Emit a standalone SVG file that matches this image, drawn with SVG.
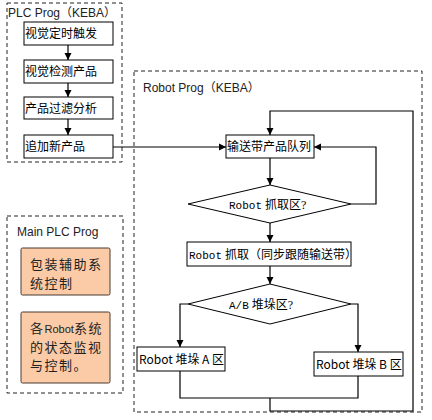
<svg xmlns="http://www.w3.org/2000/svg" width="432" height="420" viewBox="0 0 432 420">
<defs>
<style>
.frame{fill:none;stroke:#222;stroke-width:1;stroke-dasharray:4 3}
.box{fill:#fff;stroke:#000;stroke-width:1}
.obox{fill:#fbcaa6;stroke:#4a3a30;stroke-width:1}
.line{fill:none;stroke:#000;stroke-width:1.2}
.t{font-family:"Noto Sans CJK SC","Liberation Sans",sans-serif;font-size:12px;fill:#000}
.s{font-family:"Liberation Serif","Noto Sans CJK SC",serif;font-size:12px;fill:#000}
.title{font-family:"Liberation Sans","Noto Sans CJK SC",sans-serif;font-size:12px;fill:#222}
.o{font-family:"Noto Sans CJK SC",sans-serif;font-size:13px;fill:#222;letter-spacing:1.5px}
</style>
<marker id="ar" markerWidth="8" markerHeight="8" refX="7" refY="4" orient="auto" markerUnits="userSpaceOnUse">
<path d="M0,0.5 L7,4 L0,7.5 Z" fill="#000"/>
</marker>
</defs>
<rect width="432" height="420" fill="#fff"/>

<g id="plc-prog">
<rect class="frame" x="7" y="3" width="115" height="159"/>
<text class="title" x="8" y="17">PLC Prog（KEBA）</text>
</g>
<g id="n1"><rect class="box" x="24" y="22" width="89" height="23"/><text class="t" x="25" y="38">视觉定时触发</text></g>
<g id="n2"><rect class="box" x="24" y="60" width="89" height="23"/><text class="t" x="25" y="76">视觉检测产品</text></g>
<g id="n3"><rect class="box" x="24" y="97" width="89" height="22"/><text class="t" x="25" y="113">产品过滤分析</text></g>
<g id="n4"><rect class="box" x="24" y="135" width="89" height="23"/><text class="t" x="25" y="151">追加新产品</text></g>

<g id="main-plc">
<rect class="frame" x="7" y="216" width="116" height="177"/>
<text class="title" x="17" y="236">Main PLC Prog</text>
</g>
<g id="m1"><rect class="obox" x="21" y="248" width="89" height="47" rx="1.5"/>
<text class="o" x="30" y="269">包装辅助系</text><text class="o" x="30" y="288">统控制</text></g>
<g id="m2"><rect class="obox" x="21" y="312" width="89" height="71" rx="1.5"/>
<text class="o" x="30" y="333">各<tspan font-family="Liberation Sans" font-size="11" letter-spacing="0">Robot</tspan>系统</text>
<text class="o" x="30" y="352">的状态监视</text><text class="o" x="30" y="370">与控制。</text></g>

<g id="robot-prog">
<rect class="frame" x="134" y="71" width="288" height="341"/>
<text class="title" x="143" y="92">Robot Prog（KEBA）</text>
</g>
<g id="q"><rect class="box" x="226" y="135" width="88" height="23"/><text class="t" x="227" y="151">输送带产品队列</text></g>
<g id="d1"><polygon class="box" points="270,185 351,204 270,223 188,204"/>
<text class="s" x="229" y="209"><tspan font-family="Liberation Mono" font-size="11">Robot</tspan> 抓取区?</text></g>
<g id="g"><rect class="box" x="187" y="242" width="164" height="24"/>
<text class="s" x="189" y="259"><tspan font-family="Liberation Mono" font-size="11">Robot</tspan> 抓取（同步跟随输送带）</text></g>
<g id="d2"><polygon class="box" points="270,284 351,304 270,324 188,304"/>
<text class="s" x="229" y="309"><tspan font-family="Liberation Mono" font-size="11">A/B</tspan> 堆垛区?</text></g>
<g id="a"><rect class="box" x="137" y="347" width="88" height="24"/><text class="t" x="139" y="364">Robot 堆垛 A 区</text></g>
<g id="b"><rect class="box" x="314" y="352" width="89" height="24"/><text class="t" x="316" y="369">Robot 堆垛 B 区</text></g>

<g id="connectors">
<path class="line" d="M68,45 V60" marker-end="url(#ar)"/>
<path class="line" d="M68,83 V97" marker-end="url(#ar)"/>
<path class="line" d="M68,119 V135" marker-end="url(#ar)"/>
<path class="line" d="M113,147 H226" marker-end="url(#ar)"/>
<path class="line" d="M270,398 V411 H413 V111 H270 V135" marker-end="url(#ar)"/>
<path class="line" d="M270,158 V185" marker-end="url(#ar)"/>
<path class="line" d="M351,204 H376 V147 H314" marker-end="url(#ar)"/>
<path class="line" d="M270,223 V242" marker-end="url(#ar)"/>
<path class="line" d="M270,266 V284" marker-end="url(#ar)"/>
<path class="line" d="M188,304 H180 V347" marker-end="url(#ar)"/>
<path class="line" d="M351,304 H358 V352" marker-end="url(#ar)"/>
<path class="line" d="M180,371 V398 H270"/>
<path class="line" d="M358,376 V398 H270"/>
</g>
</svg>
